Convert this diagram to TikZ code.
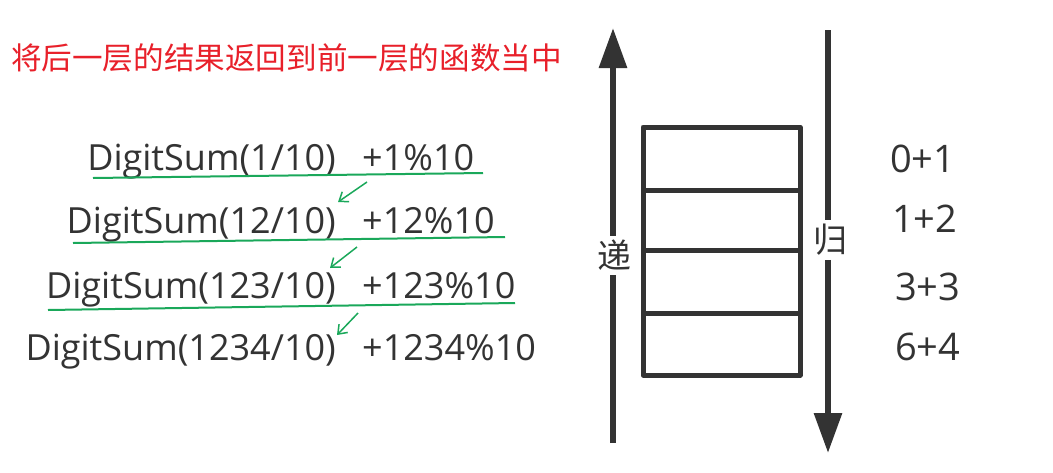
\documentclass[tikz,border=0pt]{standalone}
\usepackage{fontspec}
\setmainfont{Open Sans}
\newfontfamily\cjk{Noto Sans CJK SC}
\usetikzlibrary{arrows.meta}
\definecolor{ink}{HTML}{333333}
\definecolor{redtxt}{HTML}{E8202A}
\definecolor{grn}{HTML}{1AA85A}
\tikzset{
  exprl/.style={anchor=base east, inner sep=0pt, text=ink, font=\fontsize{36}{40}\selectfont},
  exprr/.style={anchor=base west, inner sep=0pt, text=ink, font=\fontsize{36}{40}\selectfont},
  num/.style={anchor=base west, inner sep=0pt, text=ink, font=\fontsize{38}{42}\selectfont},
  cjklabel/.style={inner sep=4pt, text=ink, font=\cjk\fontsize{34}{38}\selectfont},
  frame/.style={draw=ink, line width=5pt, minimum width=157pt, inner sep=0pt, outer sep=0pt, line join=round},
  bigarrow/.style={draw=ink, line width=6pt, -{Triangle[length=40pt,width=27pt]}},
  uline/.style={draw=grn, line width=2pt},
  garrow/.style={draw=grn, line width=1.5pt, -{Straight Barb[length=8pt,width=12pt]}}
}
\begin{document}
\begin{tikzpicture}[x=1pt,y=-1pt]
\useasboundingbox (0,0) rectangle (1053,472);
% title
\node[anchor=west, inner sep=0pt, text=redtxt, font=\cjk\fontsize{30.6}{34}\selectfont] (title) at (11,58) {将后一层的结果返回到前一层的函数当中};
% expressions
\node[exprl] (e1l) at (336,170) {DigitSum(1/10)};
\node[exprr] (e1r) at (362,170) {+1\%10};
\node[exprl] (e2l) at (336,233) {DigitSum(12/10)};
\node[exprr] (e2r) at (362,233) {+12\%10};
\node[exprl] (e3l) at (336,298) {DigitSum(123/10)};
\node[exprr] (e3r) at (362,298) {+123\%10};
\node[exprl] (e4l) at (336,360) {DigitSum(1234/10)};
\node[exprr] (e4r) at (362,360) {+1234\%10};
% underlines
\coordinate (u1a) at (93,178); \coordinate (u1b) at (483,173);
\coordinate (u2a) at (73,243); \coordinate (u2b) at (505,237);
\coordinate (u3a) at (48,310); \coordinate (u3b) at (515,303);
\draw[uline] (u1a) -- (u1b);
\draw[uline] (u2a) -- (u2b);
\draw[uline] (u3a) -- (u3b);
% small green arrows
\coordinate (g1a) at (367,182); \coordinate (g1b) at (338,202);
\coordinate (g2a) at (357,247); \coordinate (g2b) at (330,268);
\coordinate (g3a) at (358,313); \coordinate (g3b) at (337,335);
\draw[garrow] (g1a) -- (g1b);
\draw[garrow] (g2a) -- (g2b);
\draw[garrow] (g3a) -- (g3b);
% stack frames
\node[frame, minimum height=63pt] (b1) at (721.5,158.5) {};
\node[frame, minimum height=60pt] (b2) at (721.5,220) {};
\node[frame, minimum height=63pt] (b3) at (721.5,281.5) {};
\node[frame, minimum height=62pt] (b4) at (721.5,344) {};
\draw[ink, line width=3pt] (b1.south west) -- (b1.south east);
\draw[ink, line width=3pt] (b3.south west) -- (b3.south east);
% left arrow (递)
\node[cjklabel] (di) at (614,255) {递};
\coordinate (lb) at (613,443);
\coordinate (lt) at (613,28);
\draw[ink, line width=6pt] (lb) -- (di.south -| lb);
\draw[bigarrow] (di.north -| lb) -- (lt);
% right arrow (归)
\node[cjklabel] (gui) at (830,240) {归};
\coordinate (rt) at (828,30);
\coordinate (rb) at (828,453);
\draw[ink, line width=6pt] (rt) -- (gui.north -| rt);
\draw[bigarrow] (gui.south -| rt) -- (rb);
% results
\node[num] (r1) at (890,172) {0+1};
\node[num] (r2) at (892,232) {1+2};
\node[num] (r3) at (895,300) {3+3};
\node[num] (r4) at (895,360) {6+4};
\end{tikzpicture}
\end{document}
